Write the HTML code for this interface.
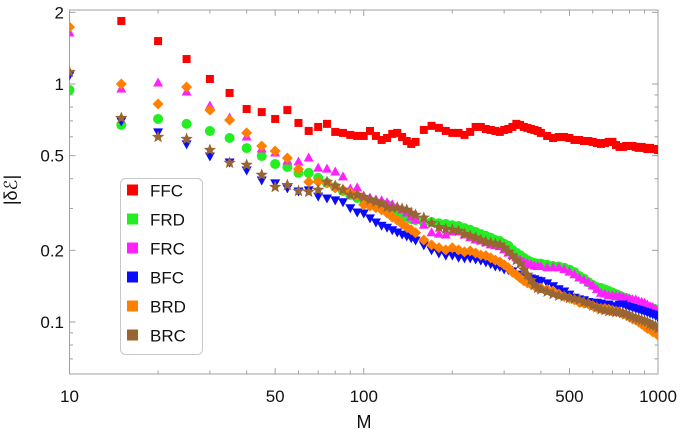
<!DOCTYPE html>
<html><head><meta charset="utf-8"><style>
body{margin:0;background:#fff;}
svg{display:block;font-family:"Liberation Sans",sans-serif;}
</style></head><body>
<svg id="chart" width="685" height="435" viewBox="0 0 685 435" xmlns="http://www.w3.org/2000/svg">
<g id="grid"></g><g id="marks"></g><g id="legend"></g>
</svg>
<script>
const mValues=[10,15,20,25,30,35,40,45,50,55,60,65,70,75,80,85,90,95,100,105,110,115,120,125,130,135,140,145,150,
160,170,180,190,200,210,220,230,240,250,260,270,280,290,300,310,320,330,340,350,360,370,380,390,400,
420,440,460,480,500,520,540,560,580,600,620,640,660,680,700,720,740,760,780,800,820,840,860,880,900,920,940,960,980,1000];
const ffc=[2.3,1.84,1.515,1.273,1.05,0.917,0.785,0.762,0.713,0.777,0.686,0.635,0.66,0.68,0.629,0.623,0.611,0.605,0.605,0.635,0.605,0.582,0.593,0.617,0.623,0.599,0.576,0.56,0.571,
0.641,0.667,0.654,0.635,0.623,0.623,0.611,0.629,0.66,0.66,0.647,0.641,0.635,0.629,0.641,0.647,0.66,0.68,0.673,0.66,0.654,0.647,0.641,0.635,0.623,
0.605,0.593,0.599,0.599,0.593,0.582,0.582,0.576,0.576,0.571,0.565,0.56,0.565,0.571,0.571,0.554,0.544,0.544,0.549,0.549,0.549,0.544,0.539,0.544,0.539,0.533,0.539,0.533,0.533,0.528];
const frd=[0.944,0.673,0.713,0.68,0.635,0.593,0.538,0.498,0.461,0.448,0.423,0.423,0.403,0.384,0.369,0.355,0.342,0.332,0.326,0.323,0.317,0.314,0.311,0.302,0.29,0.282,0.276,0.271,0.268,
0.263,0.263,0.26,0.258,0.255,0.253,0.248,0.244,0.239,0.234,0.23,0.226,0.221,0.219,0.213,0.209,0.201,0.195,0.191,0.186,0.182,0.179,0.177,0.176,0.176,
0.174,0.172,0.171,0.169,0.166,0.162,0.156,0.152,0.147,0.143,0.14,0.139,0.137,0.135,0.133,0.131,0.129,0.127,0.126,0.124,0.122,0.121,0.119,0.117,0.116,0.115,0.115,0.114,0.113,0.1125];
const frc=[1.637,0.953,1.01,0.926,0.808,0.72,0.599,0.533,0.513,0.475,0.47,0.489,0.443,0.439,0.427,0.407,0.362,0.366,0.338,0.332,0.326,0.323,0.317,0.311,0.304,0.296,0.287,0.276,0.268,
0.255,0.237,0.234,0.232,0.239,0.239,0.232,0.226,0.221,0.219,0.215,0.211,0.209,0.207,0.201,0.195,0.19,0.186,0.182,0.179,0.176,0.174,0.172,0.171,0.171,
0.169,0.169,0.169,0.166,0.162,0.158,0.153,0.15,0.146,0.142,0.137,0.132,0.131,0.129,0.129,0.128,0.128,0.127,0.126,0.125,0.124,0.124,0.122,0.121,0.12,0.118,0.116,0.115,0.113,0.111];
const bfc=[1.091,0.699,0.629,0.56,0.498,0.47,0.435,0.395,0.384,0.366,0.355,0.359,0.338,0.332,0.326,0.32,0.302,0.29,0.287,0.274,0.263,0.255,0.25,0.244,0.239,0.234,0.23,0.226,0.221,
0.211,0.201,0.195,0.191,0.191,0.187,0.186,0.186,0.184,0.182,0.179,0.176,0.172,0.171,0.167,0.166,0.164,0.159,0.158,0.156,0.155,0.153,0.152,0.15,0.149,
0.146,0.142,0.138,0.135,0.131,0.127,0.125,0.124,0.122,0.121,0.121,0.12,0.119,0.119,0.117,0.117,0.119,0.119,0.117,0.116,0.115,0.114,0.113,0.112,0.111,0.11,0.109,0.108,0.107,0.105];
const brd=[1.736,1.0,0.824,0.971,0.777,0.706,0.623,0.549,0.523,0.489,0.439,0.388,0.388,0.384,0.366,0.359,0.349,0.342,0.311,0.307,0.302,0.296,0.287,0.276,0.268,0.258,0.25,0.244,0.237,
0.221,0.211,0.205,0.201,0.205,0.201,0.197,0.199,0.195,0.191,0.19,0.186,0.182,0.179,0.174,0.169,0.162,0.158,0.153,0.149,0.146,0.144,0.142,0.139,0.139,
0.137,0.135,0.131,0.128,0.126,0.124,0.121,0.12,0.119,0.117,0.115,0.114,0.114,0.113,0.112,0.111,0.11,0.108,0.107,0.105,0.103,0.102,0.1,0.098,0.096,0.094,0.093,0.091,0.09,0.088];
const brc=[1.123,0.72,0.599,0.587,0.528,0.466,0.457,0.415,0.369,0.376,0.355,0.352,0.359,0.388,0.373,0.359,0.342,0.342,0.335,0.326,0.32,0.314,0.304,0.302,0.302,0.299,0.296,0.287,0.282,
0.274,0.26,0.25,0.246,0.244,0.241,0.234,0.23,0.226,0.221,0.217,0.215,0.213,0.211,0.205,0.197,0.19,0.182,0.176,0.166,0.158,0.15,0.143,0.139,0.137,
0.134,0.131,0.129,0.128,0.126,0.125,0.124,0.121,0.12,0.117,0.115,0.113,0.112,0.111,0.111,0.11,0.11,0.109,0.108,0.106,0.105,0.104,0.103,0.102,0.101,0.1,0.098,0.097,0.096,0.094];
const seriesNames=["FFC","FRD","FRC","BFC","BRD","BRC"];
const xTickLabels=[10,50,100,500,1000];
const yTickLabels=[0.1,0.2,0.5,1,2];

const NS="http://www.w3.org/2000/svg";
const L=69.5,R=658,T=10,B=374;
function xs(m){return L+(Math.log10(m)-1)*294.25;}
function ys(v){return 84-Math.log10(v)*238;}
function mk(tag,attrs,parent){const e=document.createElementNS(NS,tag);for(const k in attrs)e.setAttribute(k,attrs[k]);parent.appendChild(e);return e;}
const grid=document.getElementById('grid'),marks=document.getElementById('marks'),leg=document.getElementById('legend');

// clip
const defs=mk('defs',{},grid);
const cp=mk('clipPath',{id:'pc'},defs);
mk('rect',{x:L,y:T,width:R-L,height:B-T},cp);
marks.setAttribute('clip-path','url(#pc)');

const frame=mk('rect',{x:L,y:T,width:R-L,height:B-T,fill:'none',stroke:'#a0a0a0','stroke-width':1},grid);



// x ticks
const xt=[];
for(let d=10;d<=100;d*=10)for(let k=1;k<10;k++)xt.push(k*d);xt.push(1000);
xt.forEach(m=>{const x=xs(m);const maj=xTickLabels.includes(m);const len=maj?6:3.5;
 const t1=mk('line',{x1:x,x2:x,y1:B,y2:B-len,stroke:'#a0a0a0'},grid);
 
 
 const t2=mk('line',{x1:x,x2:x,y1:T,y2:T+len,stroke:'#a0a0a0'},grid);
 
 
});
xTickLabels.forEach(m=>{const t=mk('text',{x:xs(m),y:402,'text-anchor':'middle','font-size':17,fill:'#111'},grid);t.textContent=m;
 
 });
// y ticks
const yt=[0.07,0.08,0.09,0.1,0.2,0.3,0.4,0.5,0.6,0.7,0.8,0.9,1,2];
yt.forEach(v=>{const y=ys(v);const maj=yTickLabels.includes(v);const len=maj?6:3.5;
 const t1=mk('line',{x1:L,x2:L+len,y1:y,y2:y,stroke:'#a0a0a0'},grid);
 
 
 const t2=mk('line',{x1:R,x2:R-len,y1:y,y2:y,stroke:'#a0a0a0'},grid);
 
 
});
yTickLabels.forEach(v=>{const t=mk('text',{x:64,y:ys(v)+6,'text-anchor':'end','font-size':17,fill:'#111'},grid);t.textContent=v;
 
 });
const xtit=mk('text',{x:364,y:428,'text-anchor':'middle','font-size':18,fill:'#111'},grid);xtit.textContent='M';


const ytit=mk('text',{x:0,y:0,'text-anchor':'middle','font-size':18,fill:'#111',transform:'translate(17,190) rotate(-90)'},grid);ytit.textContent='|δℰ|';



const colors=['#ff0000','#22ee22','#ff22ff','#0a0aff','#ff8000','#996633'];
function shape(i,x,y,g){
 if(i===0)return mk('rect',{x:x-4,y:y-4,width:8,height:8,fill:colors[i]},g);
 if(i===1)return mk('circle',{cx:x,cy:y,r:5,fill:colors[i]},g);
 if(i===2)return mk('polygon',{points:`${x},${y-5.5} ${x+5},${y+3.5} ${x-5},${y+3.5}`,fill:colors[i]},g);
 if(i===3)return mk('polygon',{points:`${x},${y+5.5} ${x+5},${y-3.5} ${x-5},${y-3.5}`,fill:colors[i]},g);
 if(i===4)return mk('polygon',{points:`${x},${y-5.5} ${x+5.5},${y} ${x},${y+5.5} ${x-5.5},${y}`,fill:colors[i]},g);
 let p=[];for(let k=0;k<10;k++){const r=k%2?2.8:6.5,a=-Math.PI/2+k*Math.PI/5;p.push((x+r*Math.cos(a)).toFixed(2)+','+(y+r*Math.sin(a)).toFixed(2));}
 return mk('polygon',{points:p.join(' '),fill:colors[i]},g);
}
[ffc,frd,frc,bfc,brd,brc].forEach((arr,i)=>{
 const g=mk('g',{},marks);
 
 
 arr.forEach((v,j)=>{const s=shape(i,xs(mValues[j]),ys(v),g);
  
  });
});

// legend
const box=mk('rect',{x:120.5,y:178.5,width:82,height:176,rx:5,fill:'#fff',stroke:'#c8c8c8'},leg);


seriesNames.forEach((n,i)=>{const y=190+i*29;
 const g=mk('g',{},leg);
 
 
 mk('rect',{x:127,y:y-5.5,width:11,height:11,fill:colors[i]},g);
 const t=mk('text',{x:150,y:y+6.5,'font-size':17,fill:'#111'},g);t.textContent=n;});
</script>
</body></html>
